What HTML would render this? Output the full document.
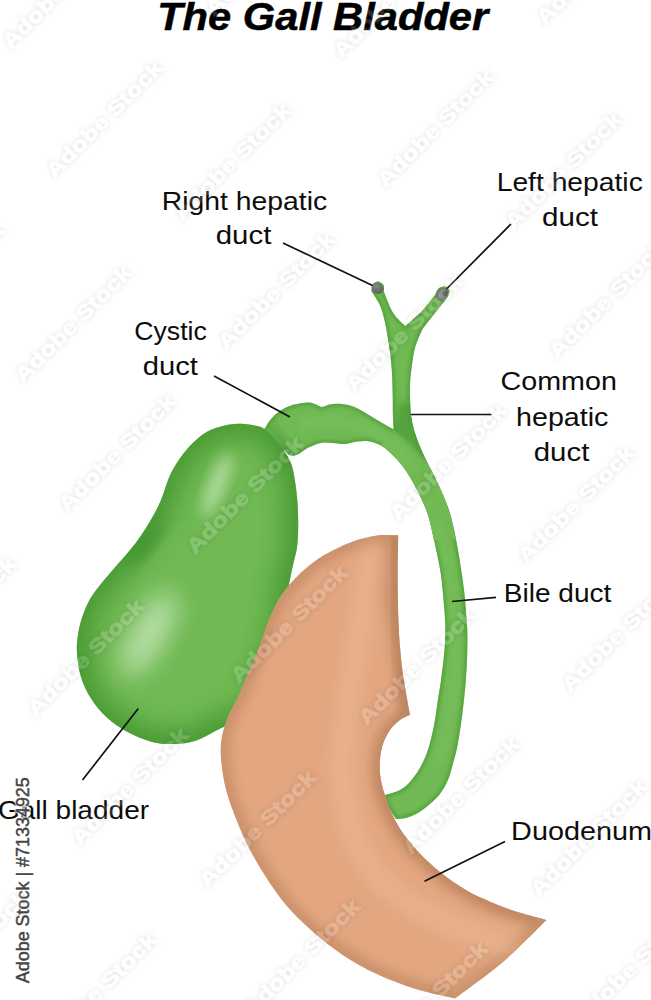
<!DOCTYPE html>
<html lang="en">
<head>
<meta charset="utf-8">
<title>The Gall Bladder</title>
<style>
  html, body { margin: 0; padding: 0; background: #ffffff; }
  body { width: 651px; height: 1000px; overflow: hidden; position: relative; }
  svg { position: absolute; left: 0; top: 0; display: block; }
  text { font-family: "Liberation Sans", sans-serif; fill: #0d0d0d; }
  .lbl { font-size: 26.5px; }
  .title { font-size: 38.5px; font-weight: bold; font-style: italic; fill: #000; stroke: #000; stroke-width: 0.5px; }
  .wmw text { font-size: 21px; font-weight: bold; fill: #fff; stroke: #fff; stroke-width: 1px; }
  .ln { stroke: #111; stroke-width: 1.7; fill: none; stroke-linecap: butt; }
</style>
</head>
<body>
<svg width="651" height="1000" viewBox="0 0 651 1000">
  <defs>
    <radialGradient id="gTip" cx="0.35" cy="0.35" r="0.8">
      <stop offset="0" stop-color="#868686"/>
      <stop offset="1" stop-color="#5a5a5a"/>
    </radialGradient>
    <filter id="wmf" filterUnits="userSpaceOnUse" x="-20" y="-20" width="700" height="1040" color-interpolation-filters="sRGB">
      <feGaussianBlur in="SourceAlpha" stdDeviation="2.6" result="bl"/>
      <feComposite in="bl" in2="SourceAlpha" operator="out" result="glow"/>
      <feColorMatrix in="glow" type="matrix" values="0 0 0 0 0  0 0 0 0 0  0 0 0 0 0  0 0 0 0.12 0" result="glowc"/>
      <feColorMatrix in="SourceGraphic" type="matrix" values="0 0 0 0 1  0 0 0 0 1  0 0 0 0 1  0 0 0 0.16 0" result="w"/>
      <feMerge><feMergeNode in="glowc"/><feMergeNode in="w"/></feMerge>
    </filter>
    <filter id="b13" x="-80%" y="-80%" width="260%" height="260%"><feGaussianBlur stdDeviation="13"/></filter>
    <filter id="b10" x="-50%" y="-50%" width="200%" height="200%"><feGaussianBlur stdDeviation="10"/></filter>
    <filter id="b7" x="-50%" y="-50%" width="200%" height="200%"><feGaussianBlur stdDeviation="7"/></filter>
    <filter id="b5" x="-50%" y="-50%" width="200%" height="200%"><feGaussianBlur stdDeviation="5"/></filter>
    <filter id="b3" x="-50%" y="-50%" width="200%" height="200%"><feGaussianBlur stdDeviation="3"/></filter>
    <filter id="b1" x="-10%" y="-10%" width="120%" height="120%"><feGaussianBlur stdDeviation="1.1"/></filter>
    <filter id="b2" x="-50%" y="-50%" width="200%" height="200%"><feGaussianBlur stdDeviation="1.6"/></filter>
    <path id="pGall" d="M241.0,423.8 C246.3,423.8 251.8,424.9 255.7,425.8 C259.6,426.7 261.1,426.8 264.3,429.0 C267.5,431.2 271.7,435.4 275.0,439.0 C278.3,442.6 281.3,446.2 284.0,450.4 C286.7,454.6 289.5,458.9 291.3,464.0 C293.1,469.1 294.0,474.5 295.0,481.0 C296.0,487.5 297.0,495.2 297.5,503.0 C298.0,510.8 298.3,520.4 298.2,527.8 C298.1,535.2 297.9,541.3 297.0,547.5 C296.1,553.7 294.5,557.9 293.0,565.0 C291.5,572.1 289.5,580.8 288.0,590.0 C286.5,599.2 286.0,608.3 284.0,620.0 C282.0,631.7 279.7,647.5 276.0,660.0 C272.3,672.5 267.3,685.0 262.0,695.0 C256.7,705.0 250.0,714.8 244.0,720.0 C238.0,725.2 231.1,724.0 226.0,726.0 C220.9,728.0 218.8,729.5 213.6,732.0 C208.4,734.5 201.7,739.0 195.0,741.0 C188.3,743.0 180.9,743.9 173.7,744.0 C166.5,744.1 159.7,743.9 152.0,741.9 C144.3,739.9 135.3,736.2 127.6,732.0 C119.9,727.8 112.2,722.4 106.0,716.7 C99.8,711.0 94.9,704.7 90.7,698.0 C86.5,691.3 83.2,684.4 80.9,676.7 C78.6,669.0 77.3,659.3 76.9,652.0 C76.5,644.7 77.3,639.0 78.3,633.0 C79.2,627.0 80.6,621.7 82.6,616.0 C84.5,610.3 87.0,604.4 90.0,599.0 C93.0,593.6 96.9,588.9 100.9,583.9 C104.9,578.9 109.1,574.2 113.8,568.8 C118.5,563.4 124.2,557.3 128.8,551.6 C133.5,545.9 137.8,540.2 141.7,534.4 C145.6,528.6 149.3,522.7 152.5,517.0 C155.7,511.3 158.1,506.8 161.0,500.0 C163.9,493.2 166.6,482.8 169.7,476.0 C172.8,469.2 175.8,464.3 179.5,459.0 C183.2,453.7 187.3,448.5 191.8,444.0 C196.3,439.5 201.2,435.0 206.5,432.0 C211.8,429.0 217.9,427.2 223.7,425.8 C229.4,424.4 235.7,423.8 241.0,423.8 Z"/>
    <path id="pDuo" d="M398.2,535.2 C395.0,535.2 385.6,534.5 379.0,535.2 C372.4,535.9 365.5,537.5 358.7,539.6 C351.9,541.7 345.2,544.5 338.4,547.7 C331.6,550.9 324.5,554.5 318.0,558.9 C311.5,563.3 305.2,568.6 299.6,574.0 C294.0,579.4 288.5,585.4 284.3,591.0 C280.1,596.6 277.3,601.7 274.2,607.9 C271.1,614.1 268.6,620.7 265.8,628.0 C263.0,635.3 260.4,643.9 257.3,651.8 C254.2,659.7 250.6,667.6 247.2,675.5 C243.8,683.4 240.4,691.7 237.0,699.0 C233.6,706.3 229.5,712.3 226.9,719.4 C224.3,726.5 222.1,734.2 221.2,741.5 C220.3,748.8 220.7,755.1 221.5,763.0 C222.3,770.9 223.7,780.2 225.8,788.8 C228.0,797.4 230.8,805.3 234.4,814.6 C238.0,823.9 242.3,834.7 247.3,844.7 C252.3,854.7 258.1,864.8 264.5,874.8 C270.9,884.8 278.1,895.7 286.0,905.0 C293.9,914.3 302.5,922.6 311.8,930.8 C321.1,939.0 331.2,947.2 342.0,954.4 C352.8,961.6 364.1,968.1 376.3,973.8 C388.5,979.5 401.9,984.7 415.0,988.8 C428.1,992.9 448.3,996.9 455.0,998.5 C463.0,992.4 487.8,975.1 503.0,962.0 C518.2,948.9 539.2,927.0 546.5,920.0 C540.9,918.4 524.1,914.3 513.0,910.5 C501.9,906.7 488.4,901.0 480.0,897.2 C471.6,893.4 468.9,891.8 462.4,887.7 C455.9,883.6 448.1,878.5 440.9,872.7 C433.7,866.9 425.9,859.8 419.4,853.0 C412.9,846.2 406.7,838.5 402.0,831.8 C397.3,825.0 394.4,819.1 391.4,812.5 C388.4,805.9 385.9,798.1 384.0,792.0 C382.1,785.9 381.0,781.3 380.3,776.0 C379.6,770.7 379.6,765.3 380.0,760.0 C380.4,754.7 381.3,749.0 383.0,744.0 C384.7,739.0 387.2,734.0 390.0,730.0 C392.8,726.0 396.7,722.5 400.0,720.0 C403.3,717.5 408.3,715.8 410.0,715.0 C409.6,712.9 408.9,709.7 407.7,702.5 C406.5,695.3 404.0,682.7 402.6,672.0 C401.2,661.3 400.1,649.5 399.3,638.3 C398.5,627.0 398.2,615.8 397.9,604.5 C397.6,593.2 397.6,582.2 397.6,570.7 C397.7,559.2 398.1,541.1 398.2,535.2 Z"/>
    <path id="pDucts" d="M258.0,436.0 C259.1,434.8 262.2,431.7 264.3,429.0 C266.4,426.3 267.8,422.7 270.4,419.7 C273.0,416.7 276.3,413.4 280.0,411.0 C283.7,408.6 287.8,406.4 292.5,405.0 C297.2,403.6 304.5,402.5 308.4,402.4 C312.3,402.3 313.7,403.8 316.0,404.6 C318.3,405.4 319.7,407.0 322.0,407.0 C324.3,407.0 326.7,405.1 330.0,404.6 C333.3,404.1 337.9,403.6 342.0,404.0 C346.1,404.4 350.4,405.4 354.5,407.0 C358.6,408.6 363.0,411.7 366.7,413.8 C370.4,415.9 373.4,417.9 376.6,419.8 C379.8,421.7 383.1,423.7 386.0,425.3 C388.9,426.9 392.5,428.8 393.8,429.5 C393.6,427.1 393.1,420.8 392.9,415.0 C392.7,409.2 392.9,402.5 392.7,395.0 C392.5,387.5 392.4,378.0 391.8,370.0 C391.2,362.0 390.3,354.5 389.2,346.8 C388.1,339.1 386.8,330.7 385.3,323.8 C383.8,316.9 382.3,310.7 380.0,305.3 C377.7,299.9 372.9,293.8 371.5,291.5 C371.7,290.3 371.4,286.2 372.5,284.5 C373.6,282.8 376.2,281.4 378.0,281.5 C379.8,281.6 382.5,283.3 383.5,285.0 C384.5,286.7 383.8,290.4 383.8,291.5 C384.9,294.3 388.5,304.0 390.7,308.4 C392.9,312.8 394.6,315.1 397.0,318.0 C399.4,320.9 403.9,324.7 405.3,326.0 C406.8,324.8 411.3,320.9 414.0,318.5 C416.7,316.1 419.0,314.0 421.4,311.5 C423.8,309.0 426.2,306.3 428.5,303.5 C430.8,300.7 434.2,296.1 435.3,294.6 C435.8,293.6 436.9,289.9 438.5,288.5 C440.1,287.1 443.2,286.1 445.0,286.5 C446.8,286.9 449.1,289.1 449.5,291.0 C449.9,292.9 447.9,296.5 447.6,297.6 C445.3,300.4 437.4,309.9 433.7,314.5 C430.0,319.1 427.6,322.2 425.5,325.0 C423.4,327.8 423.1,327.8 421.4,331.4 C419.7,335.0 416.9,341.2 415.3,346.8 C413.7,352.4 412.9,358.6 412.0,365.0 C411.1,371.4 410.2,376.8 410.0,385.0 C409.8,393.2 410.1,406.3 411.0,414.4 C411.9,422.5 413.3,427.4 415.3,433.8 C417.3,440.2 419.6,445.8 422.8,453.0 C426.0,460.2 430.8,468.9 434.6,476.8 C438.4,484.7 442.5,493.2 445.4,500.4 C448.3,507.6 449.7,511.7 451.8,520.0 C453.9,528.3 456.0,538.3 458.0,550.0 C460.0,561.7 462.5,577.5 464.0,590.0 C465.5,602.5 466.4,615.0 467.0,625.0 C467.6,635.0 467.5,640.8 467.3,650.0 C467.1,659.2 466.6,670.0 465.8,680.0 C465.1,690.0 464.1,699.3 462.8,710.0 C461.5,720.7 459.5,735.0 457.8,744.0 C456.1,753.0 454.5,758.0 452.9,764.0 C451.2,770.0 450.1,775.0 447.9,780.0 C445.7,785.0 442.9,790.0 439.9,794.0 C436.9,798.0 433.6,800.8 429.9,804.0 C426.2,807.2 421.9,810.7 417.9,813.0 C413.9,815.3 409.6,817.0 406.0,818.0 C402.4,819.0 397.7,818.8 396.0,819.0 C394.7,816.8 390.0,809.9 388.0,806.0 C386.0,802.1 384.7,797.2 384.0,795.5 C386.7,794.6 395.7,792.2 400.0,790.0 C404.3,787.8 406.6,785.7 409.9,782.0 C413.2,778.3 416.9,773.3 419.9,768.0 C422.9,762.7 425.6,757.0 427.9,750.0 C430.2,743.0 432.2,734.3 433.9,726.0 C435.6,717.7 436.7,707.7 437.9,700.0 C439.1,692.3 439.9,688.3 441.0,680.0 C442.1,671.7 443.8,659.2 444.5,650.0 C445.2,640.8 445.5,633.3 445.3,625.0 C445.1,616.7 444.3,608.8 443.5,600.0 C442.7,591.2 442.1,582.0 440.5,572.0 C438.9,562.0 436.1,549.5 434.0,540.0 C431.9,530.5 430.5,522.7 428.0,515.0 C425.5,507.3 422.6,500.9 419.0,493.7 C415.4,486.5 410.8,478.1 406.7,472.0 C402.6,465.9 398.5,461.1 394.4,456.8 C390.3,452.5 386.1,448.6 382.0,446.0 C377.9,443.4 373.9,442.2 369.8,441.4 C365.7,440.6 361.6,441.0 357.5,441.4 C353.4,441.8 349.1,443.7 345.0,444.0 C340.9,444.3 337.1,443.2 333.0,443.0 C328.9,442.8 324.8,442.2 320.7,443.0 C316.6,443.8 312.3,445.7 308.4,447.6 C304.5,449.5 300.6,453.3 297.5,454.6 C294.4,455.9 292.2,456.1 290.0,455.3 C287.8,454.5 285.0,450.9 284.0,450.0 C281.7,449.0 274.3,446.3 270.0,444.0 C265.7,441.7 260.0,437.3 258.0,436.0 Z"/>
    <clipPath id="cGall"><use href="#pGall"/></clipPath>
    <clipPath id="cDuo"><use href="#pDuo"/></clipPath>
    <clipPath id="cDucts"><use href="#pDucts"/></clipPath>
  </defs>

  <!-- ducts -->
  <use href="#pDucts" fill="#70b953"/>
  <g clip-path="url(#cDucts)">
    <use href="#pDucts" fill="none" stroke="#4a9c35" stroke-width="6" opacity="0.6" filter="url(#b2)"/>
    <!-- hepatic duct passing behind the bile duct -->
    <path d="M393.8,429.5 C404,437 416,448 426,461 L415,433 L411,405 L400,400 Z" fill="#3f922e" opacity="0.55" filter="url(#b3)"/>
    <path d="M393.8,429.5 C404,437 416,448 427,462 C440,482 450,510 456,540 L430,540 C424,500 410,462 380,447 Z" fill="#70b953"/>
    <path d="M393.8,429.5 C404,437 416,448 427,462" fill="none" stroke="#4a9c35" stroke-width="1.6" opacity="0.7" filter="url(#b2)"/>
    <!-- neck shadow -->
    <ellipse cx="281" cy="441" rx="5" ry="22" transform="rotate(-38 281 441)" fill="#3f9230" opacity="0.5" filter="url(#b5)"/>
    <path d="M300,425 C320,420 345,420 365,428 C385,436 400,450 412,468" fill="none" stroke="#86c96c" stroke-width="8" opacity="0.5" filter="url(#b5)"/>
    <path d="M436,520 C448,560 456,610 455,660 C454,700 446,740 438,765" fill="none" stroke="#86c96c" stroke-width="6" opacity="0.5" filter="url(#b5)"/>
  </g>
  <ellipse cx="377.6" cy="288.4" rx="6.1" ry="5.5" transform="rotate(20 377.6 288.4)" fill="url(#gTip)"/>
  <ellipse cx="441.9" cy="294.4" rx="7.3" ry="5.5" transform="rotate(-52 441.9 294.4)" fill="url(#gTip)"/>

  <!-- gall bladder -->
  <use href="#pGall" fill="#70b953"/>
  <g clip-path="url(#cGall)">
    <use href="#pGall" fill="none" stroke="#3d912c" stroke-width="34" opacity="0.6" filter="url(#b10)"/>
    <use href="#pGall" fill="none" stroke="#3d912c" stroke-width="6" opacity="0.3" filter="url(#b3)"/>
    <ellipse cx="217" cy="485" rx="8" ry="34" transform="rotate(22 217 485)" fill="#bfe3b0" opacity="0.85" filter="url(#b7)"/>
    <ellipse cx="149" cy="634" rx="17" ry="48" transform="rotate(30 149 634)" fill="#c4e6b6" opacity="0.9" filter="url(#b13)"/>
    <ellipse cx="147" cy="543" rx="6" ry="28" transform="rotate(38 147 543)" fill="#358a27" opacity="0.65" filter="url(#b7)"/>
  </g>

  <!-- duodenum -->
  <use href="#pDuo" fill="#e2a680"/>
  <g clip-path="url(#cDuo)">
    <use href="#pDuo" fill="none" stroke="#bd8660" stroke-width="18" opacity="0.6" filter="url(#b5)"/>
    <path d="M374,545 C364,610 348,680 342,763 C342,800 352,845 372,870 C395,900 440,925 520,950" fill="none" stroke="#f0bf9e" stroke-width="18" opacity="0.6" filter="url(#b10)"/>
    <path d="M398.2,535 C397,600 400,660 410,715" fill="none" stroke="#b37d59" stroke-width="16" opacity="0.55" filter="url(#b5)"/>
    <path d="M400,530 L400,640 L380,600 L385,530 Z" fill="#b98360" opacity="0.35" filter="url(#b7)"/>
    <path d="M410,715 C385,725 375,760 384,795 C395,830 430,870 480,897 C500,908 525,915 546.5,920" fill="none" stroke="#b37d59" stroke-width="10" opacity="0.5" filter="url(#b5)"/>
  </g>

  <!-- leader lines -->
  <line class="ln" x1="283" y1="243" x2="372.5" y2="285.5"/>
  <line class="ln" x1="511" y1="224" x2="446" y2="289.5"/>
  <line class="ln" x1="214" y1="376" x2="290" y2="417"/>
  <line class="ln" x1="410.8" y1="414.5" x2="491.4" y2="414.5"/>
  <line class="ln" x1="452" y1="601.5" x2="496" y2="597.3"/>
  <line class="ln" x1="424.5" y1="881.3" x2="505" y2="841.5"/>
  <line class="ln" x1="138.3" y1="708.5" x2="82.5" y2="780"/>

  <text class="title" x="157.17" y="30.2" textLength="331.09" lengthAdjust="spacingAndGlyphs">The Gall Bladder</text>
  <text class="lbl" x="161.81" y="209.8" textLength="165.35" lengthAdjust="spacingAndGlyphs">Right hepatic</text>
  <text class="lbl" x="215.81" y="244.2" textLength="55.50" lengthAdjust="spacingAndGlyphs">duct</text>
  <text class="lbl" x="496.69" y="190.8" textLength="146.09" lengthAdjust="spacingAndGlyphs">Left hepatic</text>
  <text class="lbl" x="542.05" y="226.0" textLength="55.85" lengthAdjust="spacingAndGlyphs">duct</text>
  <text class="lbl" x="134.25" y="339.8" textLength="72.58" lengthAdjust="spacingAndGlyphs">Cystic</text>
  <text class="lbl" x="142.68" y="374.8" textLength="55.23" lengthAdjust="spacingAndGlyphs">duct</text>
  <text class="lbl" x="500.60" y="390.2" textLength="116.31" lengthAdjust="spacingAndGlyphs">Common</text>
  <text class="lbl" x="516.09" y="425.6" textLength="92.35" lengthAdjust="spacingAndGlyphs">hepatic</text>
  <text class="lbl" x="533.81" y="461.2" textLength="55.50" lengthAdjust="spacingAndGlyphs">duct</text>
  <text class="lbl" x="503.86" y="602.4" textLength="107.48" lengthAdjust="spacingAndGlyphs">Bile duct</text>
  <text class="lbl" x="511.08" y="840.4" textLength="140.90" lengthAdjust="spacingAndGlyphs">Duodenum</text>
  <text class="lbl" x="-2.12" y="819.1" textLength="151.20" lengthAdjust="spacingAndGlyphs">Gall bladder</text>

  <!-- stock id -->
  <g transform="translate(29.4 983.2) rotate(-90)" font-size="18.6">
    <text x="0" y="0" textLength="206" lengthAdjust="spacingAndGlyphs" style="fill:none;stroke:#ffffff;stroke-width:3.5px;stroke-opacity:0.6;stroke-linejoin:round">Adobe Stock | #71334925</text>
    <text x="0" y="0" textLength="206" lengthAdjust="spacingAndGlyphs" style="fill:#454545;stroke:#454545;stroke-width:0.45px">Adobe Stock | #71334925</text>
  </g>

  <!-- watermark pattern -->
  <g class="wmw" filter="url(#wmf)" transform="translate(3 2.5)">
    <text transform="translate(-120.3 5.2) rotate(-45)" textLength="155" lengthAdjust="spacingAndGlyphs">Adobe Stock</text>
    <text transform="translate(210.7 14.2) rotate(-45)" textLength="155" lengthAdjust="spacingAndGlyphs">Adobe Stock</text>
    <text transform="translate(541.7 23.2) rotate(-45)" textLength="155" lengthAdjust="spacingAndGlyphs">Adobe Stock</text>
    <text transform="translate(7.5 47.5) rotate(-45)" textLength="155" lengthAdjust="spacingAndGlyphs">Adobe Stock</text>
    <text transform="translate(51.5 176.5) rotate(-45)" textLength="155" lengthAdjust="spacingAndGlyphs">Adobe Stock</text>
    <text transform="translate(338.5 56.5) rotate(-45)" textLength="155" lengthAdjust="spacingAndGlyphs">Adobe Stock</text>
    <text transform="translate(382.5 185.5) rotate(-45)" textLength="155" lengthAdjust="spacingAndGlyphs">Adobe Stock</text>
    <text transform="translate(-107.7 338.8) rotate(-45)" textLength="155" lengthAdjust="spacingAndGlyphs">Adobe Stock</text>
    <text transform="translate(179.3 218.8) rotate(-45)" textLength="155" lengthAdjust="spacingAndGlyphs">Adobe Stock</text>
    <text transform="translate(223.3 347.8) rotate(-45)" textLength="155" lengthAdjust="spacingAndGlyphs">Adobe Stock</text>
    <text transform="translate(510.3 227.8) rotate(-45)" textLength="155" lengthAdjust="spacingAndGlyphs">Adobe Stock</text>
    <text transform="translate(554.3 356.8) rotate(-45)" textLength="155" lengthAdjust="spacingAndGlyphs">Adobe Stock</text>
    <text transform="translate(20.1 381.1) rotate(-45)" textLength="155" lengthAdjust="spacingAndGlyphs">Adobe Stock</text>
    <text transform="translate(64.1 510.1) rotate(-45)" textLength="155" lengthAdjust="spacingAndGlyphs">Adobe Stock</text>
    <text transform="translate(351.1 390.1) rotate(-45)" textLength="155" lengthAdjust="spacingAndGlyphs">Adobe Stock</text>
    <text transform="translate(395.1 519.1) rotate(-45)" textLength="155" lengthAdjust="spacingAndGlyphs">Adobe Stock</text>
    <text transform="translate(-95.1 672.4) rotate(-45)" textLength="155" lengthAdjust="spacingAndGlyphs">Adobe Stock</text>
    <text transform="translate(191.9 552.4) rotate(-45)" textLength="155" lengthAdjust="spacingAndGlyphs">Adobe Stock</text>
    <text transform="translate(235.9 681.4) rotate(-45)" textLength="155" lengthAdjust="spacingAndGlyphs">Adobe Stock</text>
    <text transform="translate(522.9 561.4) rotate(-45)" textLength="155" lengthAdjust="spacingAndGlyphs">Adobe Stock</text>
    <text transform="translate(566.9 690.4) rotate(-45)" textLength="155" lengthAdjust="spacingAndGlyphs">Adobe Stock</text>
    <text transform="translate(32.7 714.7) rotate(-45)" textLength="155" lengthAdjust="spacingAndGlyphs">Adobe Stock</text>
    <text transform="translate(76.7 843.7) rotate(-45)" textLength="155" lengthAdjust="spacingAndGlyphs">Adobe Stock</text>
    <text transform="translate(363.7 723.7) rotate(-45)" textLength="155" lengthAdjust="spacingAndGlyphs">Adobe Stock</text>
    <text transform="translate(407.7 852.7) rotate(-45)" textLength="155" lengthAdjust="spacingAndGlyphs">Adobe Stock</text>
    <text transform="translate(-82.5 1006.0) rotate(-45)" textLength="155" lengthAdjust="spacingAndGlyphs">Adobe Stock</text>
    <text transform="translate(204.5 886.0) rotate(-45)" textLength="155" lengthAdjust="spacingAndGlyphs">Adobe Stock</text>
    <text transform="translate(248.5 1015.0) rotate(-45)" textLength="155" lengthAdjust="spacingAndGlyphs">Adobe Stock</text>
    <text transform="translate(535.5 895.0) rotate(-45)" textLength="155" lengthAdjust="spacingAndGlyphs">Adobe Stock</text>
    <text transform="translate(579.5 1024.0) rotate(-45)" textLength="155" lengthAdjust="spacingAndGlyphs">Adobe Stock</text>
    <text transform="translate(45.3 1048.3) rotate(-45)" textLength="155" lengthAdjust="spacingAndGlyphs">Adobe Stock</text>
    <text transform="translate(376.3 1057.3) rotate(-45)" textLength="155" lengthAdjust="spacingAndGlyphs">Adobe Stock</text>
  </g>
</svg>
</body>
</html>
